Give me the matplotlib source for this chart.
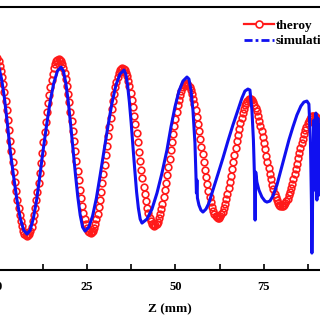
import numpy as np
import matplotlib
matplotlib.use("Agg")
import matplotlib.pyplot as plt
from matplotlib.lines import Line2D

# theory curve, sampled every 1/3 mm starting at z = -1 mm
z_start = -1.0
z_step = 1.0 / 3.0
theory = [
    0.90, 0.89, 0.88, 0.85, 0.80, 0.75, 0.69, 0.62, 0.54, 0.45, 0.36, 0.26, 0.16, 0.05,
    -0.05, -0.16, -0.26, -0.36, -0.45, -0.54, -0.62, -0.69, -0.75, -0.80, -0.85, -0.88, -0.89,
    -0.90, -0.89, -0.88, -0.85, -0.81, -0.75, -0.69, -0.62, -0.54, -0.46, -0.37, -0.27, -0.17, -0.07,
    0.04, 0.14, 0.24, 0.34, 0.43, 0.51, 0.59, 0.66, 0.72, 0.78, 0.82, 0.85, 0.86,
    0.87, 0.86, 0.85, 0.82, 0.78, 0.73, 0.67, 0.60, 0.52, 0.44, 0.34, 0.25, 0.15, 0.05,
    -0.05, -0.15, -0.25, -0.34, -0.44, -0.52, -0.60, -0.67, -0.73, -0.78, -0.82, -0.85, -0.86,
    -0.87, -0.86, -0.85, -0.82, -0.78, -0.73, -0.68, -0.61, -0.54, -0.46, -0.37, -0.28, -0.19, -0.09,
    0.00, 0.10, 0.19, 0.28, 0.37, 0.45, 0.52, 0.59, 0.64, 0.69, 0.73, 0.76, 0.77,
    0.78, 0.77, 0.76, 0.73, 0.70, 0.65, 0.60, 0.53, 0.46, 0.39, 0.30, 0.22, 0.13, 0.04,
    -0.06, -0.15, -0.24, -0.32, -0.41, -0.48, -0.55, -0.62, -0.67, -0.72, -0.75, -0.78, -0.79,
    -0.80, -0.79, -0.78, -0.76, -0.72, -0.68, -0.63, -0.58, -0.51, -0.44, -0.37, -0.29, -0.21, -0.13,
    -0.04, 0.04, 0.12, 0.20, 0.27, 0.34, 0.41, 0.46, 0.51, 0.55, 0.59, 0.61, 0.62,
    0.63, 0.62, 0.61, 0.59, 0.56, 0.52, 0.47, 0.42, 0.36, 0.29, 0.22, 0.15, 0.07, -0.01,
    -0.08, -0.16, -0.24, -0.31, -0.38, -0.45, -0.51, -0.56, -0.61, -0.65, -0.68, -0.70, -0.71,
    -0.72, -0.72, -0.70, -0.68, -0.66, -0.62, -0.58, -0.53, -0.48, -0.42, -0.36, -0.30, -0.23, -0.16,
    -0.09, -0.02, 0.05, 0.11, 0.17, 0.23, 0.28, 0.33, 0.37, 0.41, 0.43, 0.45, 0.47,
    0.47, 0.47, 0.46, 0.44, 0.41, 0.38, 0.35, 0.30, 0.25, 0.20, 0.15, 0.09, 0.03, -0.03,
    -0.10, -0.16, -0.22, -0.28, -0.33, -0.39, -0.43, -0.48, -0.51, -0.54, -0.57, -0.59, -0.60,
    -0.60, -0.60, -0.59, -0.57, -0.55, -0.53, -0.49, -0.46, -0.42, -0.38, -0.33, -0.28, -0.23, -0.18,
    -0.12, -0.07, -0.02, 0.03, 0.07, 0.12, 0.16, 0.19, 0.23, 0.25, 0.27, 0.29, 0.30,
    0.30, 0.30, 0.29, 0.28, 0.26, 0.23, 0.21,
]

# simulation curve (z in mm)
z_sim = [
    -0.71, 0.08, 0.87, 1.67, 2.46, 3.25, 4.21, 5.17, 6.13, 7.09, 8.05,
    8.95, 9.86, 10.76, 11.67, 12.57, 13.59, 14.61, 15.62, 16.64, 17.66,
    18.34, 19.02, 19.69, 20.37, 21.05, 21.73, 22.41, 23.08, 23.76, 24.44,
    25.51, 26.58, 27.66, 28.73, 29.80, 30.93, 32.06, 33.19, 34.32, 35.45,
    35.96, 36.47, 36.98, 37.49, 38.00, 38.51, 39.02, 39.52, 40.03, 40.54,
    41.95, 43.36, 44.78, 46.19, 47.60, 48.73, 49.86, 50.99, 52.12, 53.25,
    53.81, 54.38, 54.94, 55.51, 55.79, 55.93, 56.07, 56.21, 56.64, 57.20, 57.77,
    58.62, 59.46, 60.59, 62.01, 63.42, 64.83, 66.24, 67.66, 68.79, 69.63, 70.48,
    71.05, 71.61, 72.03, 72.32, 72.51, 72.68, 73.02, 73.59, 74.44, 75.28, 75.85,
    76.69, 77.54, 78.67, 79.80, 80.93, 82.06, 83.19, 84.32, 85.45, 86.30, 87.15,
    87.71, 88.14, 88.42, 88.56, 88.84, 89.12, 89.41, 89.69, 89.97, 90.25, 90.54, 90.82, 91.10,
]
sim = [
    0.83, 0.79, 0.67, 0.48, 0.24, -0.03, -0.29, -0.53, -0.72, -0.84, -0.88,
    -0.84, -0.72, -0.54, -0.30, -0.05, 0.21, 0.45, 0.63, 0.75, 0.79,
    0.75, 0.63, 0.45, 0.22, -0.03, -0.28, -0.51, -0.69, -0.81, -0.85,
    -0.81, -0.70, -0.52, -0.29, -0.05, 0.20, 0.43, 0.61, 0.72, 0.76,
    0.72, 0.61, 0.44, 0.23, -0.01, -0.24, -0.46, -0.62, -0.73, -0.77,
    -0.73, -0.63, -0.47, -0.27, -0.04, 0.19, 0.39, 0.55, 0.65, 0.69,
    0.67, 0.56, 0.36, 0.03, -0.29, -0.47, -0.34, -0.52, -0.59, -0.64, -0.66,
    -0.63, -0.57, -0.44, -0.28, -0.12, 0.05, 0.21, 0.36, 0.48, 0.55, 0.57,
    0.56, 0.36, 0.06, -0.29, -0.74, -0.26, -0.36, -0.44, -0.51, -0.55, -0.56,
    -0.55, -0.50, -0.39, -0.24, -0.09, 0.06, 0.19, 0.31, 0.40, 0.44, 0.45,
    0.42, 0.06, -0.54, -1.07, -0.34, 0.26, -0.44, 0.33, -0.54, 0.28, -0.49, 0.21, -0.34,
]

x_ticks = [0, 25, 50, 75, 100]
x_label = "Z (mm)"
labels = ["theroy", "simulation"]

red = "#ff1a1a"
blue = "#1010f0"

plt.rcParams['font.family'] = ['Liberation Serif', 'DejaVu Serif']
plt.rcParams['font.weight'] = 'bold'

z_theory = z_start + z_step * np.arange(len(theory))

fig = plt.figure(figsize=(3.2, 3.2), dpi=100)
# the picture is a crop: left and right spines fall outside the canvas
ax = fig.add_axes([-0.0378, 0.156, 1.139, 0.822])

ax.plot(z_theory, theory, linestyle='none', marker='o', ms=4.8, mew=1.2,
        mfc='none', mec=red, zorder=2)
ax.plot(z_sim, sim, color=blue, lw=2.2, zorder=3)

ax.set_xlim(-3, 100)
ax.set_ylim(-1.24, 1.39)
ax.set_xticks(x_ticks)
ax.set_xticks([12.5, 37.5, 62.5, 87.5], minor=True)
ax.tick_params(axis='x', which='both', direction='in', top=False,
               width=1.2, labelsize=9, pad=8)
ax.tick_params(axis='x', which='major', length=4)
ax.tick_params(axis='x', which='minor', length=4)
ax.tick_params(axis='y', left=False, labelleft=False)
for sp in ax.spines.values():
    sp.set_linewidth(1.5)
ax.set_xlabel(x_label, fontsize=9.5, fontweight='bold', labelpad=7)

handles = [
    Line2D([], [], color=red, lw=1.6, marker='o', ms=5, mew=1.2, mfc='white', mec=red),
    Line2D([], [], color=blue, lw=2.0, linestyle=(0, (2.9, 1.1, 1, 1.1))),
]
fig.legend(handles, labels, loc='upper left', bbox_to_anchor=(0.745, 0.955),
           frameon=False, fontsize=9.5, handlelength=2.3, handletextpad=0.12,
           labelspacing=0.25, borderaxespad=0)

fig.savefig("out.png", dpi=100)
